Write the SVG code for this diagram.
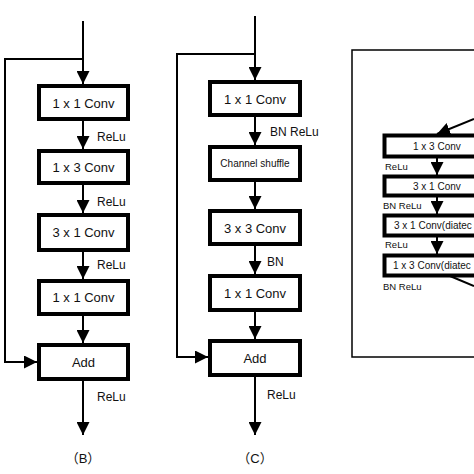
<svg xmlns="http://www.w3.org/2000/svg" width="474" height="474" viewBox="0 0 474 474">
<style>
.box{fill:#fff;stroke:#000;stroke-width:4}
.ln{fill:none;stroke:#000;stroke-width:2}
.frame{fill:none;stroke:#000;stroke-width:1.5}
.t{font-family:"Liberation Sans",Arial,sans-serif;font-size:13px;fill:#111;text-anchor:middle;dominant-baseline:central}
.s{font-family:"Liberation Sans",Arial,sans-serif;font-size:12px;fill:#111;dominant-baseline:central}
.sm{font-family:"Liberation Sans",Arial,sans-serif;font-size:10px;fill:#111;text-anchor:middle;dominant-baseline:central}
.d{font-family:"Liberation Sans",Arial,sans-serif;font-size:10px;fill:#111;dominant-baseline:central}
.ds{font-family:"Liberation Sans",Arial,sans-serif;font-size:9.5px;fill:#111;dominant-baseline:central}
.cap{font-family:"Liberation Sans","Noto Sans CJK SC",sans-serif;font-size:13px;fill:#111;text-anchor:middle;dominant-baseline:central}
</style>
<defs>
<marker id="ah" markerUnits="userSpaceOnUse" markerWidth="13" markerHeight="13" refX="13" refY="6.5" orient="auto" viewBox="0 0 13 13">
<path d="M0,0 L13,6.5 L0,13 z" fill="#000"/>
</marker>
</defs>
<rect width="474" height="474" fill="#fff"/>
<g id="connectors">
<path class="ln" d="M83,21 V84" marker-end="url(#ah)"/>
<path class="ln" d="M83,59 H5 V362 H37" marker-end="url(#ah)"/>
<path class="ln" d="M83,121 V149" marker-end="url(#ah)"/>
<path class="ln" d="M83,185 V213" marker-end="url(#ah)"/>
<path class="ln" d="M83,252 V279" marker-end="url(#ah)"/>
<path class="ln" d="M83,316 V343" marker-end="url(#ah)"/>
<path class="ln" d="M83,381 V435" marker-end="url(#ah)"/>
<path class="ln" d="M255,16 V80" marker-end="url(#ah)"/>
<path class="ln" d="M255,54 H177 V357 H208" marker-end="url(#ah)"/>
<path class="ln" d="M255,117 V145" marker-end="url(#ah)"/>
<path class="ln" d="M255,182 V209" marker-end="url(#ah)"/>
<path class="ln" d="M255,246 V274" marker-end="url(#ah)"/>
<path class="ln" d="M255,312 V339" marker-end="url(#ah)"/>
<path class="ln" d="M255,377 V435" marker-end="url(#ah)"/>
<path class="ln" d="M474,119 L437,134" marker-end="url(#ah)"/>
<path class="ln" d="M437,158 V175" marker-end="url(#ah)"/>
<path class="ln" d="M437,197 V214" marker-end="url(#ah)"/>
<path class="ln" d="M437,236 V254" marker-end="url(#ah)"/>
<path class="ln" d="M450,276 L474,286"/>
</g>
<rect class="frame" x="352" y="50" width="130" height="307"/>
<g id="b1"><rect class="box" x="39" y="86" width="89" height="33"/><text class="t" x="83.5" y="103">1 x 1 Conv</text></g>
<g id="b2"><rect class="box" x="39" y="151" width="89" height="32"/><text class="t" x="83.5" y="167">1 x 3 Conv</text></g>
<g id="b3"><rect class="box" x="39" y="215" width="89" height="35"/><text class="t" x="83.5" y="232">3 x 1 Conv</text></g>
<g id="b4"><rect class="box" x="39" y="281" width="89" height="33"/><text class="t" x="83.5" y="297">1 x 1 Conv</text></g>
<g id="b5"><rect class="box" x="39" y="345" width="89" height="34"/><text class="t" x="83.5" y="362">Add</text></g>
<g id="blabels">
<text class="s" x="97" y="137">ReLu</text>
<text class="s" x="97" y="202">ReLu</text>
<text class="s" x="97" y="265">ReLu</text>
<text class="s" x="97" y="397">ReLu</text>
<text class="cap" x="83" y="458">（B）</text>
</g>
<g id="c1"><rect class="box" x="210" y="82" width="90" height="33"/><text class="t" x="255" y="99">1 x 1 Conv</text></g>
<g id="c2"><rect class="box" x="210" y="147" width="90" height="33"/><text class="sm" x="255" y="163.5">Channel shuffle</text></g>
<g id="c3"><rect class="box" x="210" y="211" width="90" height="33"/><text class="t" x="255" y="228">3 x 3 Conv</text></g>
<g id="c4"><rect class="box" x="210" y="276" width="90" height="34"/><text class="t" x="255" y="293">1 x 1 Conv</text></g>
<g id="c5"><rect class="box" x="210" y="341" width="90" height="34"/><text class="t" x="255" y="358">Add</text></g>
<g id="clabels">
<text class="s" x="270" y="132">BN ReLu</text>
<text class="s" x="267" y="262">BN</text>
<text class="s" x="267" y="395">ReLu</text>
<text class="cap" x="255" y="458">（C）</text>
</g>
<g id="d1"><rect class="box" x="384.5" y="135.5" width="110" height="21"/><text class="d" x="413" y="146">1 x 3 Conv</text></g>
<g id="d2"><rect class="box" x="384.5" y="176.5" width="110" height="19"/><text class="d" x="413" y="186">3 x 1 Conv</text></g>
<g id="d3"><rect class="box" x="384.5" y="215.5" width="110" height="20"/><text class="d" x="394" y="225.5">3 x 1 Conv(diatec</text></g>
<g id="d4"><rect class="box" x="384.5" y="255.5" width="110" height="20"/><text class="d" x="393" y="265.5">1 x 3 Conv(diatec</text></g>
<g id="dlabels">
<text class="ds" x="385" y="166">ReLu</text>
<text class="ds" x="383" y="205.5">BN ReLu</text>
<text class="ds" x="385" y="244.5">ReLu</text>
<text class="ds" x="383" y="286">BN ReLu</text>
</g>
</svg>
